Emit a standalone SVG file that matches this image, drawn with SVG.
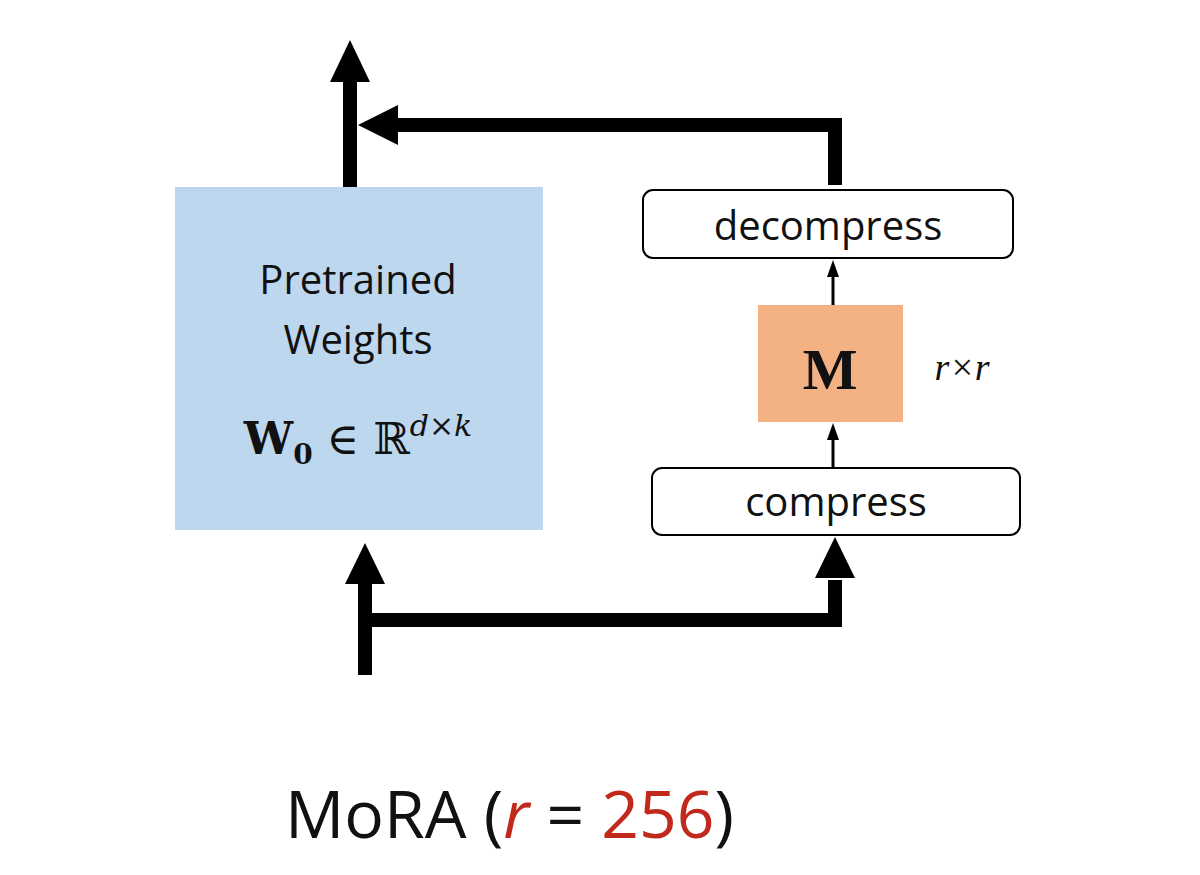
<svg xmlns="http://www.w3.org/2000/svg" width="1200" height="875" viewBox="0 0 1200 875">
<style>
.t{font-family:"Open Sans","Liberation Sans",sans-serif;fill:#111}
.thick{stroke:#000;stroke-width:14;fill:none}
.thin{stroke:#000;stroke-width:3;fill:none}
.box{fill:#fff;stroke:#000;stroke-width:2}
</style>
<rect width="1200" height="875" fill="#fff"/>
<g id="connectors">
<path class="thick" d="M350 187 V80"/>
<polygon points="350,40 330,82 370,82"/>
<path class="thick" d="M835 185 V125 H395"/>
<polygon points="358,125 398,105 398,145"/>
<path class="thick" d="M365 675 V580"/>
<polygon points="365,543 345,584 385,584"/>
<path class="thick" d="M365 620 H835 V580"/>
<polygon points="835,537 815,578 855,578"/>
<path class="thin" d="M833 305 V275"/>
<polygon points="833,260 827,277 839,277"/>
<path class="thin" d="M833 468 V438"/>
<polygon points="833,423 827,440 839,440"/>
</g>
<g id="pretrained">
<rect x="175" y="187" width="368" height="343" fill="#bdd7ee"/>
<text class="t" x="358" y="294" font-size="40" text-anchor="middle">Pretrained</text>
<text class="t" x="358" y="354" font-size="40" text-anchor="middle">Weights</text>
<text x="358" y="454" font-size="44" text-anchor="middle" font-family="DejaVu Serif,serif" fill="#111"><tspan font-weight="bold">W</tspan><tspan font-size="28" font-weight="bold" dy="10">0</tspan><tspan dy="-10"> ∈ ℝ</tspan><tspan font-size="30" dy="-18" font-style="italic">d×k</tspan></text>
</g>
<g id="decompress">
<rect class="box" x="643" y="190" width="370" height="68" rx="10"/>
<text class="t" x="828" y="240" font-size="40" text-anchor="middle">decompress</text>
</g>
<g id="M">
<rect x="758" y="305" width="145" height="117" fill="#f4b183"/>
<text x="830" y="389" font-size="58" font-weight="bold" text-anchor="middle" font-family="Liberation Serif,serif" fill="#111">M</text>
<text x="962" y="380" font-size="38" font-style="italic" text-anchor="middle" font-family="Liberation Serif,serif" fill="#111">r×r</text>
</g>
<g id="compress">
<rect class="box" x="652" y="468" width="368" height="67" rx="10"/>
<text class="t" x="836" y="516" font-size="40" text-anchor="middle">compress</text>
</g>
<text class="t" x="285" y="838" font-size="66">MoRA (<tspan fill="#c0291c" font-style="italic">r</tspan><tspan> = </tspan><tspan fill="#c0291c">256</tspan>)</text>
</svg>
